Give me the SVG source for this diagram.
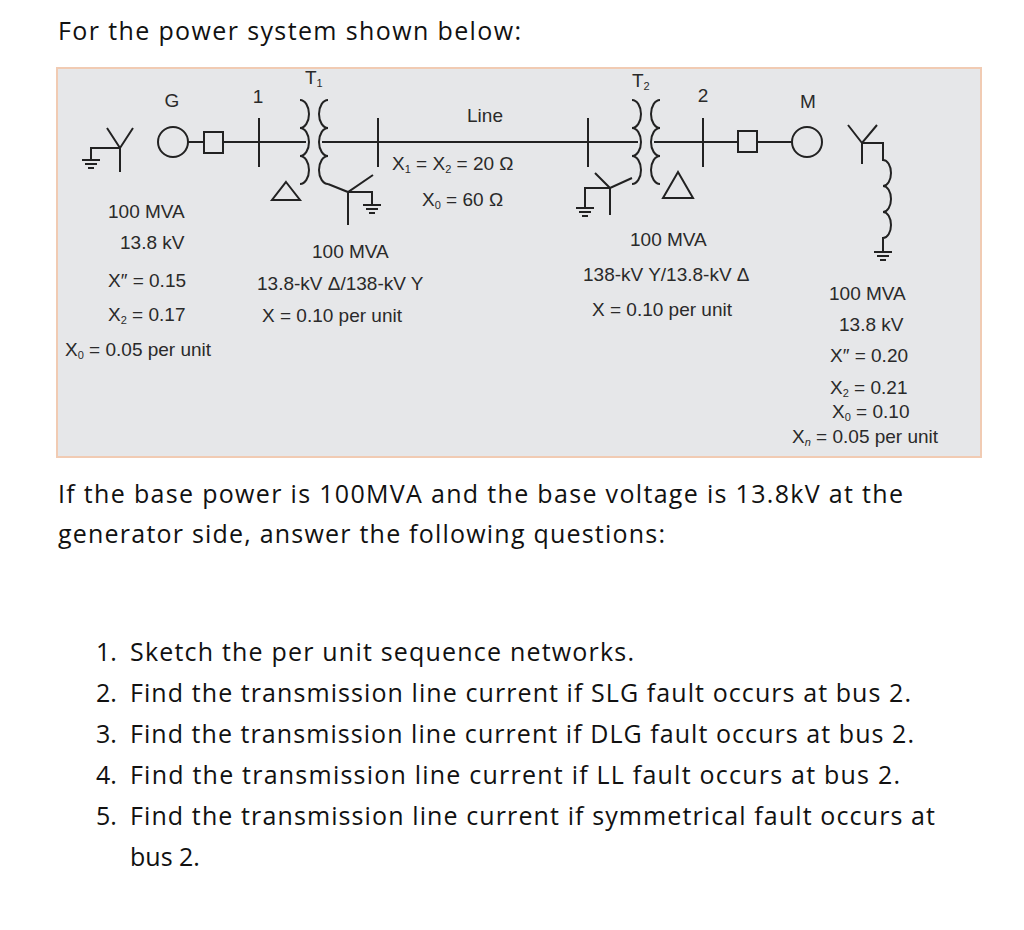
<svg xmlns="http://www.w3.org/2000/svg" width="1024" height="930" viewBox="0 0 1024 930">
<style>
.d{font-family:"Liberation Sans",Arial,sans-serif;font-size:19px;fill:#2a2a2a}
.b{font-family:"Open Sans",Lato,sans-serif;font-size:25px;fill:#111}
.w{stroke:#222;stroke-width:2;fill:none}
</style>
<rect width="1024" height="930" fill="#fff"/>
<g id="title"><text class="b" x="58" y="40" textLength="463">For the power system shown below:</text></g>
<g id="panel">
<rect x="57" y="68" width="924" height="389" fill="#e6e7e9" stroke="#f1cbb3" stroke-width="2"/>
</g>
<g id="connectors" class="w">
<path d="M120 148 L91 148 L91 160"/>
<path d="M82 160h18M85 164h12M88 168h6"/>
<path d="M107 128 L120 148 L133 128 M120 148 V172"/>
<path d="M188 142 H204 M223 142 H306"/>
<path d="M259 118 V167"/>
<path d="M322 142 H638 M588 118 V167"/>
<path d="M378 118 V167"/>
<path d="M654 142 H738 M757 142 H792"/>
<path d="M703 118 V167"/>
</g>
<g id="G">
<circle class="w" cx="173" cy="142" r="15"/>
<rect class="w" x="204" y="132" width="19" height="21"/>
<text class="d" x="172" y="107" text-anchor="middle">G</text>
</g>
<g id="bus1"><text class="d" x="258" y="103" text-anchor="middle">1</text></g>
<g id="T1" class="w">
<path d="M300 100 a9 14 0 0 1 0 28 a9 14 0 0 1 0 28 a9 14 0 0 1 0 28"/>
<path d="M328 100 a9 14 0 0 0 0 28 a9 14 0 0 0 0 28 a9 14 0 0 0 0 28"/>
<path d="M286 182 L300 200 H272 Z"/>
<path d="M328 184 L348 192 L373 175 M348 192 V225 M348 192 H372 V205 M363 205h18M366 209h12M369 213h6"/>
</g>
<text class="d" x="305" y="84">T<tspan font-size="11" dy="3">1</tspan></text>
<g id="line">
<text class="d" x="485" y="122" text-anchor="middle">Line</text>
<text class="d" x="392" y="170">X<tspan font-size="11" dy="3">1</tspan><tspan dy="-3"> = X</tspan><tspan font-size="11" dy="3">2</tspan><tspan dy="-3"> = 20 Ω</tspan></text>
<text class="d" x="422" y="206">X<tspan font-size="11" dy="3">0</tspan><tspan dy="-3"> = 60 Ω</tspan></text>
</g>
<g id="T2" class="w">
<path d="M632 100 a9 14 0 0 1 0 28 a9 14 0 0 1 0 28 a9 14 0 0 1 0 28"/>
<path d="M660 100 a9 14 0 0 0 0 28 a9 14 0 0 0 0 28 a9 14 0 0 0 0 28"/>
<path d="M678 172 L693 198 H663 Z"/>
<path d="M595 173 L610 188 L632 178 M610 188 V215 M610 188 H585 V208 M576 208h18M579 212h12M582 216h6"/>
</g>
<text class="d" x="632" y="87">T<tspan font-size="11" dy="3">2</tspan></text>
<g id="bus2"><text class="d" x="703" y="102" text-anchor="middle">2</text></g>
<g id="M">
<rect class="w" x="738" y="131" width="19" height="21"/>
<circle class="w" cx="807" cy="142" r="15"/>
<text class="d" x="808" y="108" text-anchor="middle">M</text>
<path class="w" d="M848 125 L862 143 L877 125 M862 143 V164 M862 143 H883 V160 a8 13 0 0 1 0 26 a8 13 0 0 1 0 26 a8 13 0 0 1 0 26 V252 M874 252h18M877 256h12M880 260h6"/>
</g>
<g id="genData" class="d">
<text x="108" y="218">100 MVA</text>
<text x="120" y="249">13.8 kV</text>
<text x="108" y="287">X″ = 0.15</text>
<text x="108" y="321">X<tspan font-size="11" dy="3">2</tspan><tspan dy="-3"> = 0.17</tspan></text>
<text x="65" y="356">X<tspan font-size="11" dy="3">0</tspan><tspan dy="-3"> = 0.05 per unit</tspan></text>
</g>
<g id="t1Data" class="d">
<text x="312" y="258">100 MVA</text>
<text x="257" y="290">13.8-kV Δ/138-kV Y</text>
<text x="262" y="322">X = 0.10 per unit</text>
</g>
<g id="t2Data" class="d">
<text x="630" y="246">100 MVA</text>
<text x="583" y="281">138-kV Y/13.8-kV Δ</text>
<text x="592" y="316">X = 0.10 per unit</text>
</g>
<g id="mData" class="d">
<text x="829" y="300">100 MVA</text>
<text x="839" y="331">13.8 kV</text>
<text x="830" y="362">X″ = 0.20</text>
<text x="830" y="394">X<tspan font-size="11" dy="3">2</tspan><tspan dy="-3"> = 0.21</tspan></text>
<text x="832" y="418">X<tspan font-size="11" dy="3">0</tspan><tspan dy="-3"> = 0.10</tspan></text>
<text x="792" y="443">X<tspan font-size="11" dy="3" font-style="italic">n</tspan><tspan dy="-3"> = 0.05 per unit</tspan></text>
</g>
<g id="questions" class="b">
<text x="58" y="503" textLength="845">If the base power is 100MVA and the base voltage is 13.8kV at the</text>
<text x="58" y="543" textLength="607">generator side, answer the following questions:</text>
<text x="96" y="661">1.</text><text x="130" y="661" textLength="504">Sketch the per unit sequence networks.</text>
<text x="96" y="702">2.</text><text x="130" y="702" textLength="781">Find the transmission line current if SLG fault occurs at bus 2.</text>
<text x="96" y="743">3.</text><text x="130" y="743" textLength="784">Find the transmission line current if DLG fault occurs at bus 2.</text>
<text x="96" y="784">4.</text><text x="130" y="784" textLength="770">Find the transmission line current if LL fault occurs at bus 2.</text>
<text x="96" y="825">5.</text><text x="130" y="825" textLength="805">Find the transmission line current if symmetrical fault occurs at</text>
<text x="130" y="866">bus 2.</text>
</g>
</svg>
